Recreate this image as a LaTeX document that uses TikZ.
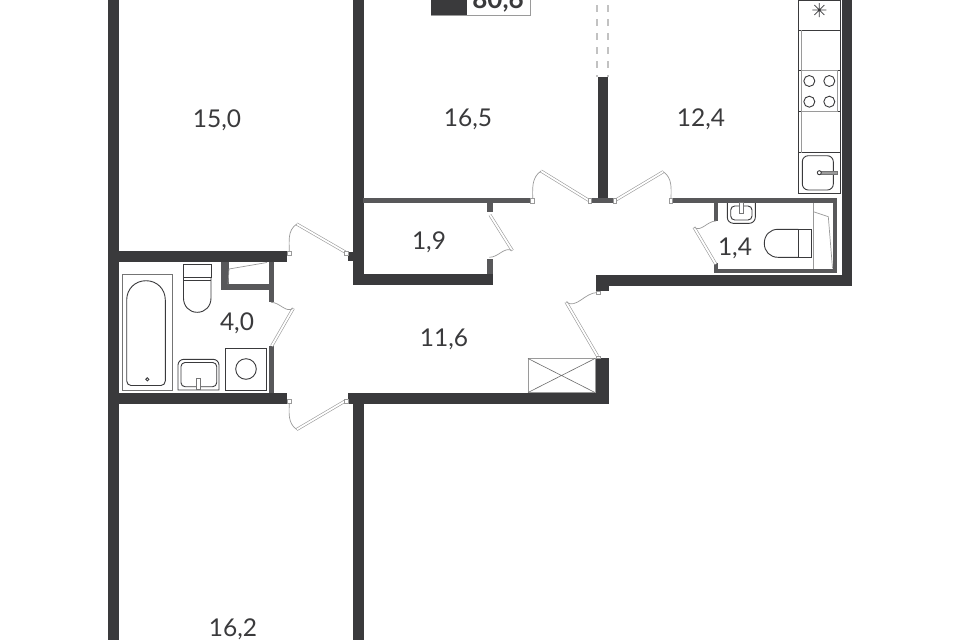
\documentclass[tikz,border=0pt]{standalone}
\usepackage{fontspec}
\setmainfont{Lato}
\definecolor{walldark}{HTML}{3A3A3C}
\definecolor{wallmid}{HTML}{58585A}
\definecolor{fixgray}{HTML}{9A9A9A}
\tikzset{
  wall/.style={fill=walldark,draw=none},
  thinwall/.style={fill=wallmid,draw=none},
  fixture/.style={draw=walldark,line width=0.9pt,fill=white},
  fixline/.style={draw=walldark,line width=0.9pt},
  leaf/.style={draw=fixgray,line width=0.6pt,double=white,double distance=1.8pt},
  swing/.style={draw=fixgray,line width=0.7pt},
  jamb/.style={draw=fixgray,line width=0.6pt,fill=white},
  area/.style={text=walldark,font=\fontsize{24.5}{24.5}\selectfont,anchor=center}
}
\begin{document}
\begin{tikzpicture}[x=1pt,y=-1pt]
\useasboundingbox[fill=white] (0,0) rectangle (960,640);

\draw[wall] (108,0) rectangle (119,640);
\draw[wall] (108,251) rectangle (287,262);
\draw[wall] (108,393) rectangle (287,404);
\draw[wall] (353,0) rectangle (363.5,285);
\draw[wall] (353,285) rectangle (492.5,274);
\draw[wall] (348,252) rectangle (353,261);
\draw[wall] (348,393) rectangle (609,404);
\draw[wall] (353,404) rectangle (363.5,640);
\draw[wall] (595,358) rectangle (609,393);
\draw[wall] (596,275) rectangle (852,285.5);
\draw[wall] (596,285) rectangle (609,291);
\draw[wall] (841.5,0) rectangle (852,285);
\draw[wall] (597.5,77) rectangle (607.5,203);

\draw[thinwall] (363,198) rectangle (532,203);
\draw[thinwall] (487,203) rectangle (492.5,212);
\draw[thinwall] (487,259) rectangle (492.5,274);
\draw[thinwall] (590,198) rectangle (614,203);
\draw[thinwall] (671,198) rectangle (836.5,202.5);
\draw[thinwall] (714,202) rectangle (718,221);
\draw[thinwall] (714,263) rectangle (718,272.5);
\draw[thinwall] (714,269) rectangle (836.5,272.5);
\draw[thinwall] (832.5,198) rectangle (836.5,272.5);
\draw[thinwall] (269,262) rectangle (274,302);
\draw[thinwall] (269,346) rectangle (274,393);
\draw[thinwall] (221,262) rectangle (229,290);
\draw[thinwall] (221,284) rectangle (274,290);

% balcony opening
\draw[fixgray!60,line width=1.5pt,dash pattern=on 7pt off 7pt] (597,5) -- (597,77);
\draw[fixgray!60,line width=1.2pt,dash pattern=on 7pt off 7pt] (608,5) -- (608,77);

% doors
\draw[leaf] (346,252.5) -- (296.7,224);
\draw[swing] (296.7,224) to[out=215,in=90] (289.3,252.5);
\draw[leaf] (346,400.5) -- (296.7,429.5);
\draw[swing] (296.7,429.5) to[out=145,in=-90] (289.3,400.5);
\draw[leaf] (271.7,346) -- (293.3,308.3);
\draw[swing] (293.3,308.3) to[out=215,in=0] (271,302.3);
\draw[leaf] (490,215) -- (512.3,250.5);
\draw[swing] (512.3,250.5) to[out=155,in=0] (489.3,257.3);
\draw[leaf] (589,200.5) -- (541,171);
\draw[swing] (541,171) to[out=215,in=90] (532.7,200.5);
\draw[leaf] (615,200.5) -- (663.3,171.7);
\draw[swing] (663.3,171.7) to[out=-35,in=90] (671,200.5);
\draw[leaf] (715.7,264) -- (694,227.3);
\draw[swing] (694,227.3) to[out=-35,in=180] (716,221);
\draw[leaf] (597.5,356) -- (566,302);
\draw[swing] (566,302) to[out=-35,in=180] (597.5,292.5);

\draw[jamb] (287.5,251) rectangle (291,255);
\draw[jamb] (344.5,251) rectangle (348,255);
\draw[jamb] (287.5,399) rectangle (291,403);
\draw[jamb] (344.5,399) rectangle (348,403);
\draw[jamb] (530.5,198) rectangle (534,203);
\draw[jamb] (588,198) rectangle (591,203);
\draw[jamb] (613.5,198) rectangle (616.5,203);
\draw[jamb] (669.5,198) rectangle (672.5,203);
\draw[jamb] (596,356) rectangle (600,358);
\draw[jamb] (596,291) rectangle (600,294);

% shaft in the hall
\draw[fixgray,line width=0.7pt] (528,358.5) rectangle (595,392.5);
\draw[fixgray!70!black,line width=0.6pt] (528,358.5) -- (595,392.5) (528,392.5) -- (595,358.5);

% shaft in the bathroom
\draw[fixgray,line width=0.7pt] (229,269) -- (267,262.5) (229,269) -- (228,284);

% bathtub
\draw[fixture,draw=fixgray!60!walldark] (122.5,274) rectangle (172.5,390);
\draw[fixline] (131,385.5) to[out=180,in=-90] (126.7,381) -- (126.7,300)
  .. controls (126.7,289) and (135,280.7) .. (146,280.7)
  .. controls (157,280.7) and (165.3,289) .. (165.3,300)
  -- (165.3,381) to[out=-90,in=0] (161,385.5) -- cycle;
\draw[fixline] (147.3,379.3) circle (1.6);

% bathroom toilet
\draw[fixline] (183.5,264) rectangle (211,277.5);
\draw[fixline] (183.5,280) -- (211,280);
\draw[fixline] (183.5,277.5) -- (183.5,298)
  .. controls (183.5,306) and (189,312.3) .. (197.2,312.3)
  .. controls (205.5,312.3) and (211,306) .. (211,298) -- (211,277.5);

% bathroom sink
\draw[fixline] (178,390) -- (178,365) to[out=90,in=180] (184,359.3) -- (213,359.3)
  to[out=0,in=90] (219,365) -- (219,390) -- cycle;
\draw[fixline,rounded corners=4pt] (181,362.5) rectangle (216.7,386.7);
\draw[fixture,draw=walldark!70] (196.7,378.3) rectangle (200.7,389);

% washer
\draw[fixline] (225.7,348.7) rectangle (266.7,390);
\draw[fixline] (246,369) circle (10.3);

% kitchen
\draw[fixline] (798.7,0) rectangle (840,193.3);
\draw[fixline] (798.7,30) -- (840,30);
\draw[fixline,line width=1.2pt] (798.7,70.7) -- (840,70.7);
\draw[fixline] (798.7,111.7) -- (840,111.7);
\draw[fixline] (798.7,152.7) -- (840,152.7);
\draw[fixgray,line width=0.7pt] (801.7,30) -- (801.7,70.7) (801.7,111.7) -- (801.7,152.7);
\draw[fixgray,line width=0.7pt] (801.7,70.7) rectangle (837.3,111.7);
\draw[fixline,line width=0.7pt] (812.3,10) -- (826.3,10) (819.3,3) -- (819.3,17)
  (814.3,5) -- (824.3,15) (814.3,15) -- (824.3,5);
\draw[fixline] (809.3,81) circle (5.5);
\draw[fixline] (829.3,81) circle (5.5);
\draw[fixline] (809.3,101.7) circle (5.5);
\draw[fixline] (829.3,101.7) circle (5.5);
\draw[fixline,rounded corners=6pt] (802.3,155.7) rectangle (833.3,190);
\draw[fill=fixgray,draw=walldark!70,line width=0.4pt] (820,171.4) rectangle (837.3,174);
\draw[fixline,fill=white] (819.3,172.7) circle (2);

% washroom sink
\draw[fixline,rounded corners=6pt] (727.3,203) -- (727.3,223.3) -- (755.3,223.3) -- (755.3,203);
\draw[fixline,rounded corners=4pt] (730.7,206) rectangle (752,220);
\draw[fixture,draw=walldark!70] (739.3,202.7) rectangle (743.3,213.3);

% washroom toilet
\draw[fixline] (798.3,229.3) rectangle (811.7,257.3);
\draw[fixline] (798.3,229.3) -- (778,229.3)
  .. controls (770,229.3) and (764.3,235) .. (764.3,243.3)
  .. controls (764.3,251.5) and (770,257.3) .. (778,257.3) -- (798.3,257.3);
\draw[fixgray,line width=0.7pt] (813.3,202.7) -- (813.3,269.3);
\draw[fixgray,line width=0.7pt] (813.3,211.7) -- (828.3,216.7) -- (832.5,268.3);

% area badge
\draw[fill=white,draw=fixgray,line width=0.7pt] (431,-2) rectangle (530.5,15);
\draw[wall] (431,-2) rectangle (466.5,15);
\node[text=walldark,font=\bfseries\fontsize{26}{26}\selectfont,anchor=base] (totalarea) at (498,8) {80,6};

\node[area] (roomA) at (217,120.5) {15,0};
\node[area] (roomB) at (468,119.5) {16,5};
\node[area] (roomC) at (701,119.5) {12,4};
\node[area] (closet) at (429,242.5) {1,9};
\node[area] (washroom) at (735,248.5) {1,4};
\node[area] (bathroom) at (237,323.5) {4,0};
\node[area] (hall) at (444,339.5) {11,6};
\node[area] (roomD) at (233,629.5) {16,2};
\end{tikzpicture}
\end{document}
